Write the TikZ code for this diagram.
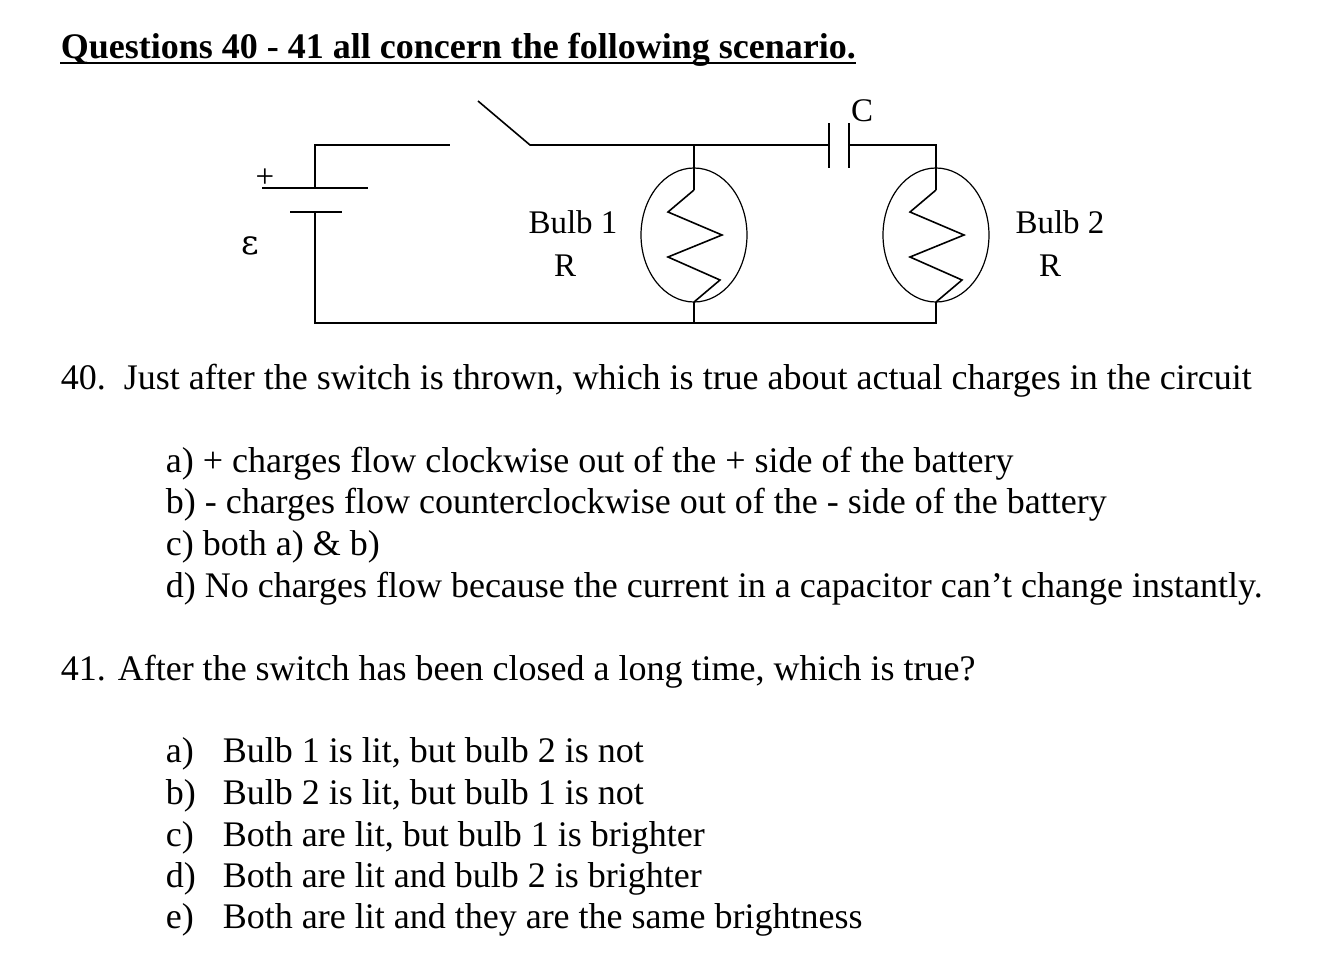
\documentclass[tikz,border=0pt]{standalone}
\usepackage{fontspec}
\setmainfont{Liberation Serif}
\begin{document}
\begin{tikzpicture}[x=1pt,y=-1pt,line width=1.6pt,
  txt/.style={anchor=base west,inner sep=0pt,font=\fontsize{36}{36}\selectfont},
  lbl/.style={anchor=base,inner sep=0pt,font=\fontsize{33}{33}\selectfont}]
\useasboundingbox (0,0) rectangle (1334,964);
% wires
\coordinate (bt) at (315,188); \coordinate (bb) at (315,212);
\coordinate (tl) at (315,145); \coordinate (sw1) at (450,145);
\coordinate (swp) at (478,101); \coordinate (sw2) at (530,145);
\coordinate (j1) at (694,145); \coordinate (c1) at (829,145);
\coordinate (c2) at (849,145); \coordinate (tr) at (936,145);
\coordinate (bl) at (315,323); \coordinate (jb) at (694,323); \coordinate (br) at (936,323);
\draw (bt) -- (tl) -- (sw1);
\draw (swp) -- (sw2) -- (j1) -- (c1);
\draw (c2) -- (tr) -- (936,190);
\draw (bb) -- (bl) -- (jb) -- (br) -- (936,302);
\draw (694,145) -- (694,190);
\draw (694,302) -- (jb);
% battery
\draw (262,188) -- (368,188);
\draw (290,212) -- (342,212);
\node[lbl] (plus) at (265,187) {+};
\node[lbl] (eps) at (250,254) {\fontspec{DejaVu Serif}\fontsize{34}{34}\selectfont ɛ};
% capacitor
\draw (c1)++(0,-22) -- ++(0,45);
\draw (c2)++(0,-22) -- ++(0,45);
\node[lbl] (C) at (862,121) {C};
% bulbs
\foreach \cx/\nm in {694/b1,936/b2}{
  \draw[line width=1.2pt] (\cx,235) ellipse [x radius=53, y radius=67];
  \draw (\cx,190) -- (\cx-26,212) -- (\cx+28,235) -- (\cx-26,257) -- (\cx+26,280) -- (\cx,302);
}
\node[lbl] (b1a) at (573,233) {Bulb 1};
\node[lbl] (b1b) at (565,276) {R};
\node[lbl] (b2a) at (1060,233) {Bulb 2};
\node[lbl] (b2b) at (1050,276) {R};
% text
\node[txt] (title) at (60,58) {\bfseries Questions 40 - 41 all concern the following scenario.};
\draw[line width=1.4pt] (60,63) -- (856,63);
\node[txt] (q40) at (60,389) {40.\ \ Just after the switch is thrown, which is true about actual charges in the circuit};
\node[txt] (a40a) at (165,472) {a) + charges flow clockwise out of the + side of the battery};
\node[txt] (a40b) at (165,513) {b) - charges flow counterclockwise out of the - side of the battery};
\node[txt] (a40c) at (165,555) {c) both a) \& b)};
\node[txt] (a40d) at (165,597) {d) No charges flow because the current in a capacitor can’t change instantly.};
\node[txt] (q41) at (60,680) {41. After the switch has been closed a long time, which is true?};
\foreach \l/\t/\y in {a)/Bulb 1 is lit{,} but bulb 2 is not/762, b)/Bulb 2 is lit{,} but bulb 1 is not/804, c)/Both are lit{,} but bulb 1 is brighter/846, d)/Both are lit and bulb 2 is brighter/887, e)/Both are lit and they are the same brightness/928}{
  \node[txt] at (165,\y) {\l};
  \node[txt] at (222,\y) {\t};
}
\end{tikzpicture}
\end{document}
